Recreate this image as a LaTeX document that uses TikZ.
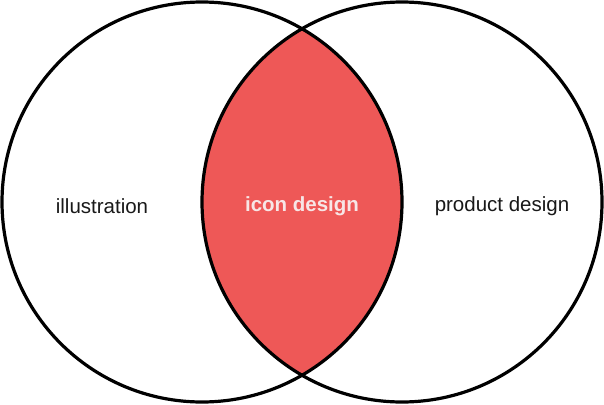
\documentclass[tikz,border=0pt]{standalone}
\usepackage{fontspec}
\setmainfont{Liberation Sans}
\definecolor{lensred}{HTML}{EE5857}
\definecolor{lenstext}{HTML}{F7E6E6}
\begin{document}
\begin{tikzpicture}[x=1pt,y=-1pt,
  ring/.style={circle, draw=black, line width=3.2pt, minimum size=400pt, inner sep=0pt},
  lbl/.style={font=\fontsize{20.5}{24}\selectfont, text=black!90}]
\useasboundingbox (0,0) rectangle (604,404);
\fill[white] (0,0) rectangle (604,404);
\begin{scope}
  \clip (202,202) circle[radius=200pt];
  \fill[lensred] (402,202) circle[radius=200pt];
\end{scope}
\node[ring] (L) at (202,202) {};
\node[ring] (R) at (402,202) {};
\node[lbl] (ill) at (102,206) {illustration};
\node[lbl, text=lenstext, font=\fontsize{20.5}{24}\selectfont\bfseries] (icon) at (302,206) {icon design};
\node[lbl] (prod) at (502,206) {product design};
\end{tikzpicture}
\end{document}
